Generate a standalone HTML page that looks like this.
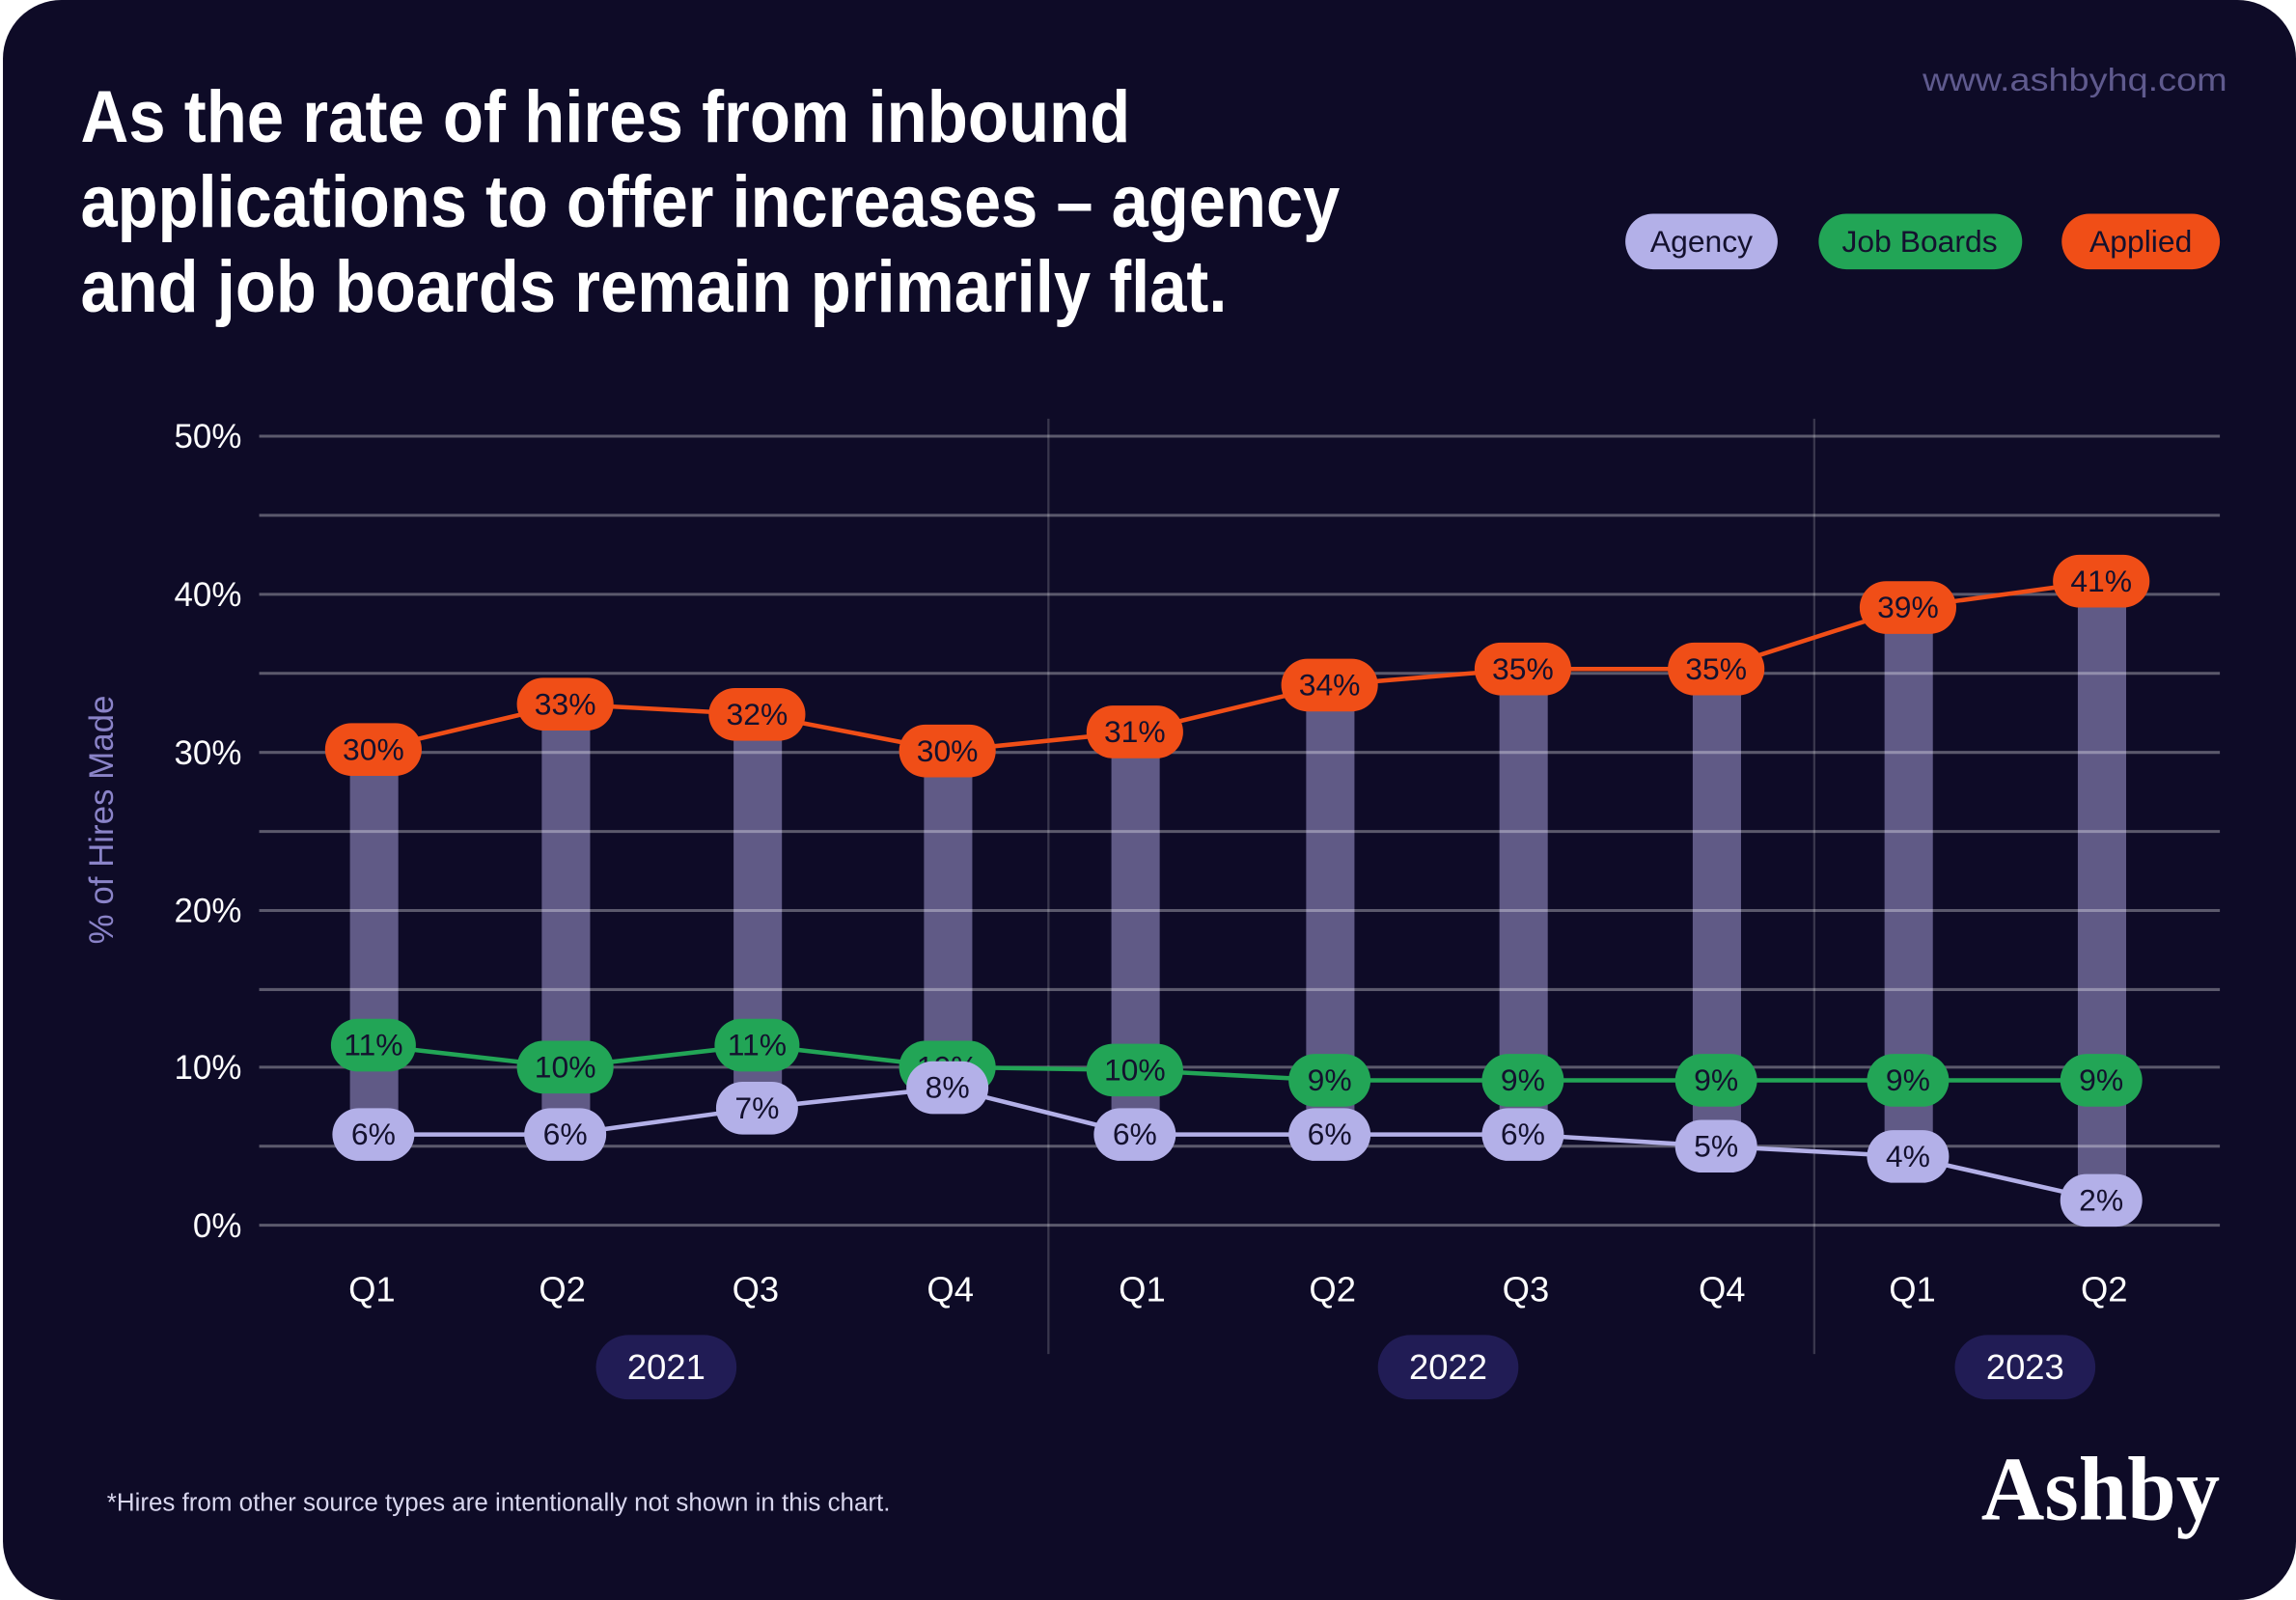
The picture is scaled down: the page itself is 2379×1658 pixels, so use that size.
<!DOCTYPE html>
<html><head><meta charset="utf-8"><style>
html,body{margin:0;padding:0;background:#fff;}
svg{display:block;}
text{font-family:"Liberation Sans",sans-serif;}
</style></head><body>
<svg width="2379" height="1658" viewBox="0 0 1568 1093" preserveAspectRatio="none">
<rect x="0" y="0" width="1568" height="1093" fill="#ffffff"/>
<rect x="2" y="0" width="1566" height="1093" rx="40" fill="#0e0b27"/>
<g fill="#ffffff" font-size="50" font-weight="bold">
<text x="55" y="97" textLength="717" lengthAdjust="spacingAndGlyphs">As the rate of hires from inbound</text>
<text x="55" y="155" textLength="860" lengthAdjust="spacingAndGlyphs">applications to offer increases – agency</text>
<text x="55" y="213" textLength="783" lengthAdjust="spacingAndGlyphs">and job boards remain primarily flat.</text>
</g>
<text x="1521" y="62" font-size="22" fill="#5f5a8e" text-anchor="end" textLength="208" lengthAdjust="spacingAndGlyphs">www.ashbyhq.com</text>
<rect x="1110" y="146" width="104" height="38" rx="19" fill="#b3b0e8"/>
<text x="1162" y="172" font-size="21" fill="#14112e" text-anchor="middle">Agency</text>
<rect x="1242" y="146" width="139" height="38" rx="19" fill="#22a556"/>
<text x="1311" y="172" font-size="21" fill="#14112e" text-anchor="middle">Job Boards</text>
<rect x="1408" y="146" width="108" height="38" rx="19" fill="#f04e17"/>
<text x="1462" y="172" font-size="21" fill="#14112e" text-anchor="middle">Applied</text>

<text transform="translate(77,560) rotate(-90)" font-size="23" fill="#8a83c8" text-anchor="middle">% of Hires Made</text>
<g font-size="23" fill="#ffffff" text-anchor="end">
<text x="165" y="306">50%</text><text x="165" y="414">40%</text><text x="165" y="522">30%</text>
<text x="165" y="630">20%</text><text x="165" y="737">10%</text><text x="165" y="845">0%</text>
</g>
<g fill="#605a86">
<rect x="239" y="512" width="33" height="263"/>
<rect x="370" y="481" width="33" height="294"/>
<rect x="501" y="488" width="33" height="269"/>
<rect x="631" y="513" width="33" height="230"/>
<rect x="759" y="500" width="33" height="275"/>
<rect x="892" y="468" width="33" height="307"/>
<rect x="1024" y="457" width="33" height="318"/>
<rect x="1156" y="457" width="33" height="326"/>
<rect x="1287" y="415" width="33" height="375"/>
<rect x="1419" y="397" width="33" height="423"/>
</g>
<g stroke="#ffffff" stroke-opacity="0.32" stroke-width="2">
<line x1="177" y1="298" x2="1516" y2="298"/><line x1="177" y1="352" x2="1516" y2="352"/>
<line x1="177" y1="406" x2="1516" y2="406"/><line x1="177" y1="460" x2="1516" y2="460"/>
<line x1="177" y1="514" x2="1516" y2="514"/><line x1="177" y1="568" x2="1516" y2="568"/>
<line x1="177" y1="622" x2="1516" y2="622"/><line x1="177" y1="676" x2="1516" y2="676"/>
<line x1="177" y1="729" x2="1516" y2="729"/><line x1="177" y1="783" x2="1516" y2="783"/>
<line x1="177" y1="837" x2="1516" y2="837"/>
</g>
<g stroke="#ffffff" stroke-opacity="0.18" stroke-width="1.5">
<line x1="716" y1="286" x2="716" y2="925"/><line x1="1239" y1="286" x2="1239" y2="925"/>
</g>
<polyline fill="none" stroke="#f04e17" stroke-width="3" points="255,512 386,481 517,488 647,513 775,500 908,468 1040,457 1172,457 1303,415 1435,397"/>
<polyline fill="none" stroke="#22a556" stroke-width="3" points="255,714 386,729 517,714 647,729 775,731 908,738 1040,738 1172,738 1303,738 1435,738"/>
<polyline fill="none" stroke="#b3b0e8" stroke-width="3" points="255,775 386,775 517,757 647,743 775,775 908,775 1040,775 1172,783 1303,790 1435,820"/>
<g font-size="21" fill="#14112e" text-anchor="middle">
<g><rect x="222" y="494" width="66" height="36" rx="18" fill="#f04e17"/><text x="255" y="519">30%</text></g>
<g><rect x="353" y="463" width="66" height="36" rx="18" fill="#f04e17"/><text x="386" y="488">33%</text></g>
<g><rect x="484" y="470" width="66" height="36" rx="18" fill="#f04e17"/><text x="517" y="495">32%</text></g>
<g><rect x="614" y="495" width="66" height="36" rx="18" fill="#f04e17"/><text x="647" y="520">30%</text></g>
<g><rect x="742" y="482" width="66" height="36" rx="18" fill="#f04e17"/><text x="775" y="507">31%</text></g>
<g><rect x="875" y="450" width="66" height="36" rx="18" fill="#f04e17"/><text x="908" y="475">34%</text></g>
<g><rect x="1007" y="439" width="66" height="36" rx="18" fill="#f04e17"/><text x="1040" y="464">35%</text></g>
<g><rect x="1139" y="439" width="66" height="36" rx="18" fill="#f04e17"/><text x="1172" y="464">35%</text></g>
<g><rect x="1270" y="397" width="66" height="36" rx="18" fill="#f04e17"/><text x="1303" y="422">39%</text></g>
<g><rect x="1402" y="379" width="66" height="36" rx="18" fill="#f04e17"/><text x="1435" y="404">41%</text></g>
<g><rect x="226" y="696" width="58" height="36" rx="18" fill="#22a556"/><text x="255" y="721">11%</text></g>
<g><rect x="353" y="711" width="66" height="36" rx="18" fill="#22a556"/><text x="386" y="736">10%</text></g>
<g><rect x="488" y="696" width="58" height="36" rx="18" fill="#22a556"/><text x="517" y="721">11%</text></g>
<g><rect x="614" y="711" width="66" height="36" rx="18" fill="#22a556"/><text x="647" y="736">10%</text></g>
<g><rect x="742" y="713" width="66" height="36" rx="18" fill="#22a556"/><text x="775" y="738">10%</text></g>
<g><rect x="880" y="720" width="56" height="36" rx="18" fill="#22a556"/><text x="908" y="745">9%</text></g>
<g><rect x="1012" y="720" width="56" height="36" rx="18" fill="#22a556"/><text x="1040" y="745">9%</text></g>
<g><rect x="1144" y="720" width="56" height="36" rx="18" fill="#22a556"/><text x="1172" y="745">9%</text></g>
<g><rect x="1275" y="720" width="56" height="36" rx="18" fill="#22a556"/><text x="1303" y="745">9%</text></g>
<g><rect x="1407" y="720" width="56" height="36" rx="18" fill="#22a556"/><text x="1435" y="745">9%</text></g>
<g><rect x="227" y="757" width="56" height="36" rx="18" fill="#b3b0e8"/><text x="255" y="782">6%</text></g>
<g><rect x="358" y="757" width="56" height="36" rx="18" fill="#b3b0e8"/><text x="386" y="782">6%</text></g>
<g><rect x="489" y="739" width="56" height="36" rx="18" fill="#b3b0e8"/><text x="517" y="764">7%</text></g>
<g><rect x="619" y="725" width="56" height="36" rx="18" fill="#b3b0e8"/><text x="647" y="750">8%</text></g>
<g><rect x="747" y="757" width="56" height="36" rx="18" fill="#b3b0e8"/><text x="775" y="782">6%</text></g>
<g><rect x="880" y="757" width="56" height="36" rx="18" fill="#b3b0e8"/><text x="908" y="782">6%</text></g>
<g><rect x="1012" y="757" width="56" height="36" rx="18" fill="#b3b0e8"/><text x="1040" y="782">6%</text></g>
<g><rect x="1144" y="765" width="56" height="36" rx="18" fill="#b3b0e8"/><text x="1172" y="790">5%</text></g>
<g><rect x="1275" y="772" width="56" height="36" rx="18" fill="#b3b0e8"/><text x="1303" y="797">4%</text></g>
<g><rect x="1407" y="802" width="56" height="36" rx="18" fill="#b3b0e8"/><text x="1435" y="827">2%</text></g>
</g>
<g font-size="24" fill="#ffffff" text-anchor="middle">
<text x="254" y="889">Q1</text><text x="384" y="889">Q2</text><text x="516" y="889">Q3</text><text x="649" y="889">Q4</text>
<text x="780" y="889">Q1</text><text x="910" y="889">Q2</text><text x="1042" y="889">Q3</text><text x="1176" y="889">Q4</text>
<text x="1306" y="889">Q1</text><text x="1437" y="889">Q2</text>
</g>
<rect x="407" y="912" width="96" height="44" rx="22" fill="#211c55"/>
<rect x="941" y="912" width="96" height="44" rx="22" fill="#211c55"/>
<rect x="1335" y="912" width="96" height="44" rx="22" fill="#211c55"/>
<g font-size="24" fill="#ffffff" text-anchor="middle">
<text x="455" y="942">2021</text><text x="989" y="942">2022</text><text x="1383" y="942">2023</text>
</g>
<text x="73" y="1032" font-size="17" fill="#d8d6ee" textLength="535" lengthAdjust="spacingAndGlyphs">*Hires from other source types are intentionally not shown in this chart.</text>
<text x="1516" y="1038" font-size="62" font-weight="bold" fill="#ffffff" text-anchor="end" style="font-family:'Liberation Serif',serif" textLength="163" lengthAdjust="spacingAndGlyphs">Ashby</text>
</svg>
</body></html>
